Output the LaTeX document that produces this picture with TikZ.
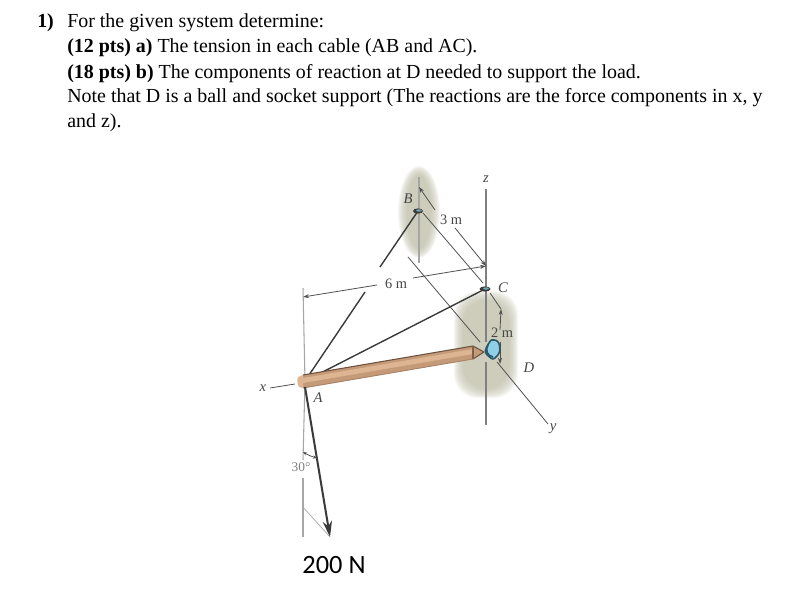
\documentclass[tikz,border=0pt]{standalone}
\usepackage{fontspec}
\setmainfont{Liberation Serif}
\newfontfamily\calib{Carlito}
\usetikzlibrary{arrows.meta}
\definecolor{blob}{HTML}{BDBCA6}
\definecolor{rodlight}{HTML}{DDB593}
\definecolor{rodmid}{HTML}{C49A78}
\definecolor{roddark}{HTML}{6E5240}
\definecolor{ax}{HTML}{808080}
\definecolor{dimc}{HTML}{505050}
\definecolor{cable}{HTML}{3A3A3A}
\definecolor{lbl}{HTML}{454545}
\definecolor{sockblue}{HTML}{8FD0E8}
\definecolor{sockdark}{HTML}{2A5A6A}
\tikzset{
  txt/.style={anchor=base west,inner sep=0pt,font=\fontsize{14.95pt}{18pt}\selectfont},
  lab/.style={inner sep=0pt,text=lbl,font=\fontsize{10.8pt}{12pt}\selectfont},
  ilab/.style={lab,font=\fontsize{11pt}{12pt}\selectfont\itshape},
  axis/.style={draw=ax,line width=1pt},
  faint/.style={draw=ax!70,line width=0.8pt},
  dimn/.style={draw=dimc,line width=0.6pt},
  dima/.style={dimn,-{Stealth[length=4.5pt,width=3pt]}},
  cab/.style={draw=cable,line width=1.05pt},
}
\begin{document}
\begin{tikzpicture}[x=0.75pt,y=-0.75pt]
\useasboundingbox (0,0) rectangle (810,599);
% shadows
\foreach \k in {0,...,9}{
  \fill[blob,opacity=0.13] (419,212) ellipse ({21-1.0*\k} and {46-1.0*\k});
  \fill[blob,opacity=0.13,rounded corners=18] ({454+\k},{291+\k}) rectangle ({518-\k},{398-\k});
}
% text
\node[txt,font=\fontsize{14.95pt}{18pt}\selectfont\bfseries] (n1) at (37,27.5) {1)};
\node[txt] (t1) at (67,27.5) {For the given system determine:};
\node[txt] (t2) at (67,52.5) {\textbf{(12 pts) a)} The tension in each cable (AB and AC).};
\node[txt] (t3) at (67,78.5) {\textbf{(18 pts) b)} The components of reaction at D needed to support the load.};
\node[txt] (t4) at (67,102.5) {Note that D is a ball and socket support (The reactions are the force components in x, y};
\node[txt] (t5) at (67,127.5) {and z).};
% key points
\coordinate (A) at (305,381);
\coordinate (B) at (418,211);
\coordinate (C) at (485,289);
\coordinate (D) at (490,350);
\coordinate (ztop) at (486,189);
\coordinate (zmid) at (486,342);
\coordinate (zlow) at (486,362);
\coordinate (zbot) at (486,425);
\coordinate (yup) at (408,257);
\coordinate (ymid) at (480,342);
\coordinate (ylow) at (497,362);
\coordinate (yend) at (548,424);
\coordinate (vAt) at (303,288);
\coordinate (vAb) at (303,460);
\coordinate (vAc) at (303,478);
\coordinate (vAe) at (303,537);
\coordinate (vBt) at (419,177);
\coordinate (vBb) at (419,263);
\coordinate (xa) at (270,388);
\coordinate (xb) at (295,384);
% axes and thin lines
\draw[axis] (ztop) -- (zmid);
\draw[axis] (zlow) -- (zbot);
\draw[faint] (vBt) -- (vBb);
\draw[faint] (vAt) -- (A);
\draw[faint] (A) -- (vAb);
\draw[faint] (vAc) -- (vAe);
\draw[dimn] (yup) -- (ymid);
\draw[dimn] (ylow) -- (yend);
\draw[dimn] (xa) -- (xb);
% cables
\coordinate (abg1) at (365,292);
\coordinate (abg2) at (380,267);
\draw[cab] (A) -- (abg1);
\draw[cab] (abg2) -- (B);
\draw[cab] (A) -- (C);
% B-C line and dimensions
\coordinate (bc1) at (423,213);
\coordinate (bc2) at (483,283);
\draw[dimn] (bc1) -- (bc2);
\coordinate (d3a) at (435,210);
\coordinate (d3b) at (419,187);
\coordinate (d3c) at (455,228);
\coordinate (d3d) at (486,266);
\draw[dima] (d3a) -- (d3b);
\draw[dima] (d3c) -- (d3d);
\coordinate (d6a) at (413,278);
\coordinate (d6b) at (377,285);
\coordinate (d6c) at (303,297);
\draw[dima] (d6a) -- (d3d);
\draw[dima] (d6b) -- (d6c);
\coordinate (d2a) at (490,293);
\coordinate (d2b) at (501,309);
\coordinate (d2c) at (500,330);
\coordinate (d2d) at (500,342);
\coordinate (d2e) at (500,364);
\draw[dimn] (d2a) -- (d2b);
\draw[dima] (d2c) -- (d2b);
\draw[dima] (d2d) -- (d2e);
% rod
\coordinate (r1) at (303,375);
\coordinate (r2) at (473,346);
\coordinate (r3) at (484,352);
\coordinate (r4) at (473,359);
\coordinate (r5) at (303,388);
\coordinate (m1) at (303,378);
\coordinate (m2) at (473,349);
\coordinate (m3) at (473,354);
\coordinate (m4) at (303,383);
\fill[rodmid] (r1) -- (r2) -- (r3) -- (r4) -- (r5) -- cycle;
\fill[rodlight] (m1) -- (m2) -- (m3) -- (m4) -- cycle;
\draw[roddark,line width=0.8pt] (r1) -- (r2) -- (r3) -- (r4);
\draw[rodmid!70!roddark,line width=0.7pt] (r4) -- (r5);
\draw[roddark!80!rodmid,line width=1.1pt] (r2) -- (r4);
\fill[rodlight] (298,377) -- (r1) -- (r5) -- (299,387) .. controls (297,384) and (297,380) .. (298,377);
% socket
\coordinate (s1) at (491,340);
\coordinate (s2) at (497,340);
\coordinate (s3) at (499,354);
\coordinate (s4) at (493,360);
\coordinate (s5) at (485,353);
\draw[draw=sockdark,fill=sockblue,line width=1.2pt,rounded corners=2pt] (s1) -- (s2) .. controls (500,345) and (500,350) .. (s3) -- (s4) -- (s5) .. controls (486,347) and (489,343) .. (s1);
\draw[draw=sockdark,line width=1.3pt] (488,345) .. controls (485,350) and (487,356) .. (493,357);
% eyebolts
\fill[cable] (B) ellipse (5 and 2.6);
\fill[sockblue!70!cable] (419,210.5) ellipse (2.8 and 1.2);
\fill[cable] (C) ellipse (5.5 and 2.6);
\fill[sockblue!70!cable] (486,288.5) ellipse (3 and 1.2);
% load
\coordinate (Ls) at (305,387);
\coordinate (Le) at (330,537);
\coordinate (Lc) at (302,506);
\draw[draw=cable,line width=1.5pt,-{Stealth[length=12pt,width=7pt]}] (Ls) -- (Le);
\draw[faint,line width=0.5pt] (Lc) -- (Le);
\coordinate (a1) at (303,452);
\coordinate (a2) at (317,458);
\draw[dimn,{Stealth[length=3pt,width=2.5pt]}-{Stealth[length=3pt,width=2.5pt]}] (a1) to[bend right=8] (a2);
% labels
\node[ilab] (lx) at (263,388) {x};
\node[ilab] (la) at (318,398) {A};
\node[ilab] (lb) at (408,199) {B};
\node[ilab] (lc) at (503,288) {C};
\node[ilab] (ld) at (529,368) {D};
\node[ilab] (ly) at (553,429) {y};
\node[ilab] (lz) at (486,179) {z};
\node[lab] (l3) at (451,220) {3 m};
\node[lab] (l6) at (396,284) {6 m};
\node[lab] (l2) at (502,333) {2 m};
\node[lab,text=ax,font=\fontsize{10pt}{11pt}\selectfont] (l30) at (301,467) {30°};
\node[inner sep=0pt,font=\calib\fontsize{19.8pt}{22pt}\selectfont] (load) at (334,565) {200 N};
\end{tikzpicture}
\end{document}
